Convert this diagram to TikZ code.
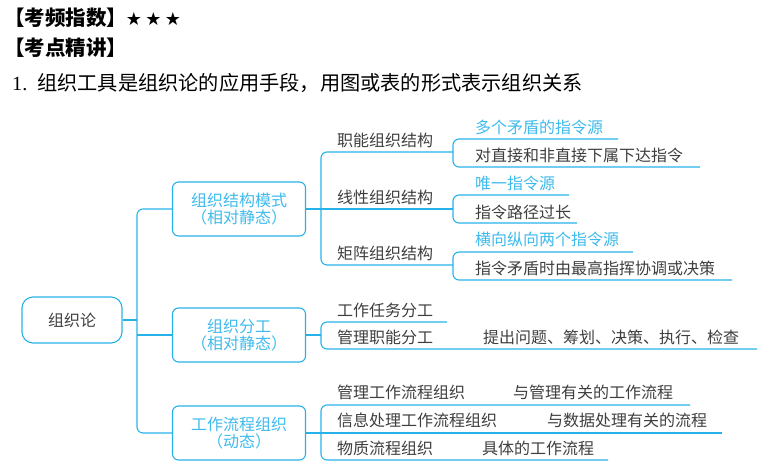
\documentclass[tikz,border=0pt]{standalone}
\usepackage{fontspec}
\setmainfont{Noto Sans CJK SC}
\newfontfamily\numfont{Liberation Serif}
\newfontfamily\starfont{DejaVu Sans}
\usepackage{xcolor}
\definecolor{linkblue}{RGB}{38,178,232}
\definecolor{textblue}{RGB}{62,186,236}
\definecolor{textgray}{RGB}{62,62,62}

\begin{document}
\begin{tikzpicture}[x=1pt, y=-1pt,
  box/.style={rectangle, draw=linkblue, line width=1.1pt, rounded corners=6pt, minimum width=133pt, minimum height=54pt, align=center, text=textblue, font=\fontsize{16}{17}\selectfont},
  rootbox/.style={box, rounded corners=11pt, minimum width=100pt, minimum height=46pt, text=textgray},
  leaf/.style={anchor=west, inner sep=0pt, text=textgray, font=\fontsize{16}{18}\selectfont},
  note/.style={leaf, text=textblue},
  head/.style={anchor=west, inner sep=0pt, font=\fontsize{20.5}{22}\selectfont\bfseries},
  link/.style={draw=linkblue, line width=1.1pt, rounded corners=6pt}
]
\useasboundingbox (0,0) rectangle (760,471);

% heading
\node[head] (freq) at (4,18) {【考频指数】\hspace{-3pt}{\starfont\fontsize{18}{20}\selectfont\makebox[19.5pt]{★}\makebox[19.5pt]{★}\makebox[19.5pt]{★}}};
\node[head] (point) at (4,48) {【考点精讲】};
\node[anchor=west, inner sep=0pt, font=\fontsize{20.2}{22}\selectfont] (intro) at (12,83) {{\numfont 1.}\hspace{10pt}组织工具是组织论的应用手段，用图或表的形式表示组织关系};

% boxes
\node[rootbox] (org) at (72,320) {组织论};
\node[box] (mode) at (239,209) {组织结构模式\\（相对静态）};
\node[box] (div) at (239,335) {组织分工\\（相对静态）};
\node[box] (flow) at (239,433) {工作流程组织\\（动态）};

\coordinate (trunk) at (137,320);
\draw[link] (org.east) -- (trunk);
\draw[link] (mode.west) -| (trunk) |- (flow.west);
\draw[link] (div.west) -- (div.west -| trunk);

% organisation structure
\node[leaf] (func) at (337,140) {职能组织结构};
\node[note] (multi) at (475,127) {多个矛盾的指令源};
\node[leaf] (direct) at (475,155) {对直接和非直接下属下达指令};
\node[leaf] (line) at (337,197) {线性组织结构};
\node[note] (single) at (475,183) {唯一指令源};
\node[leaf] (long) at (475,212) {指令路径过长};
\node[leaf] (matrix) at (337,253) {矩阵组织结构};
\node[note] (two) at (475,239) {横向纵向两个指令源};
\node[leaf] (conflict) at (475,268) {指令矛盾时由最高指挥协调或决策};

\coordinate (spA) at (321,209);
\coordinate (jA1) at (453,152);
\coordinate (jA2) at (453,209);
\coordinate (jA3) at (453,265);
\coordinate (eA1t) at (618,139);
\coordinate (eA1b) at (700,167);
\coordinate (eA2t) at (569,195);
\coordinate (eA2b) at (577,223);
\coordinate (eA3t) at (633,252);
\coordinate (eA3b) at (732,280);
\draw[link] (jA1) -| (spA) |- (jA3);
\draw[link] (mode.east) -- (jA2);
\draw[link] (eA1t) -| (jA1) |- (eA1b);
\draw[link] (eA2t) -| (jA2) |- (eA2b);
\draw[link] (eA3t) -| (jA3) |- (eA3b);

% division of work
\node[leaf] (task) at (337,310) {工作任务分工};
\node[leaf] (mgmt) at (337,337) {管理职能分工};
\node[leaf] (steps) at (483,337) {提出问题、筹划、决策、执行、检查};

\coordinate (spB) at (321,335);
\coordinate (eB1) at (447,322);
\coordinate (eB2) at (757,349);
\draw[link] (eB1) -| (spB) |- (eB2);
\draw[link] (div.east) -- (spB);

% work flow
\node[leaf] (mflow) at (337,392) {管理工作流程组织};
\node[leaf] (mflowd) at (513,392) {与管理有关的工作流程};
\node[leaf] (iflow) at (337,420) {信息处理工作流程组织};
\node[leaf] (iflowd) at (547,420) {与数据处理有关的流程};
\node[leaf] (pflow) at (337,448) {物质流程组织};
\node[leaf] (pflowd) at (482,448) {具体的工作流程};

\coordinate (spC) at (321,433);
\coordinate (eC1) at (690,405);
\coordinate (eC2) at (722,433);
\coordinate (eC3) at (608,460);
\draw[link] (eC1) -| (spC) |- (eC3);
\draw[link] (flow.east) -- (eC2);
\end{tikzpicture}
\end{document}
